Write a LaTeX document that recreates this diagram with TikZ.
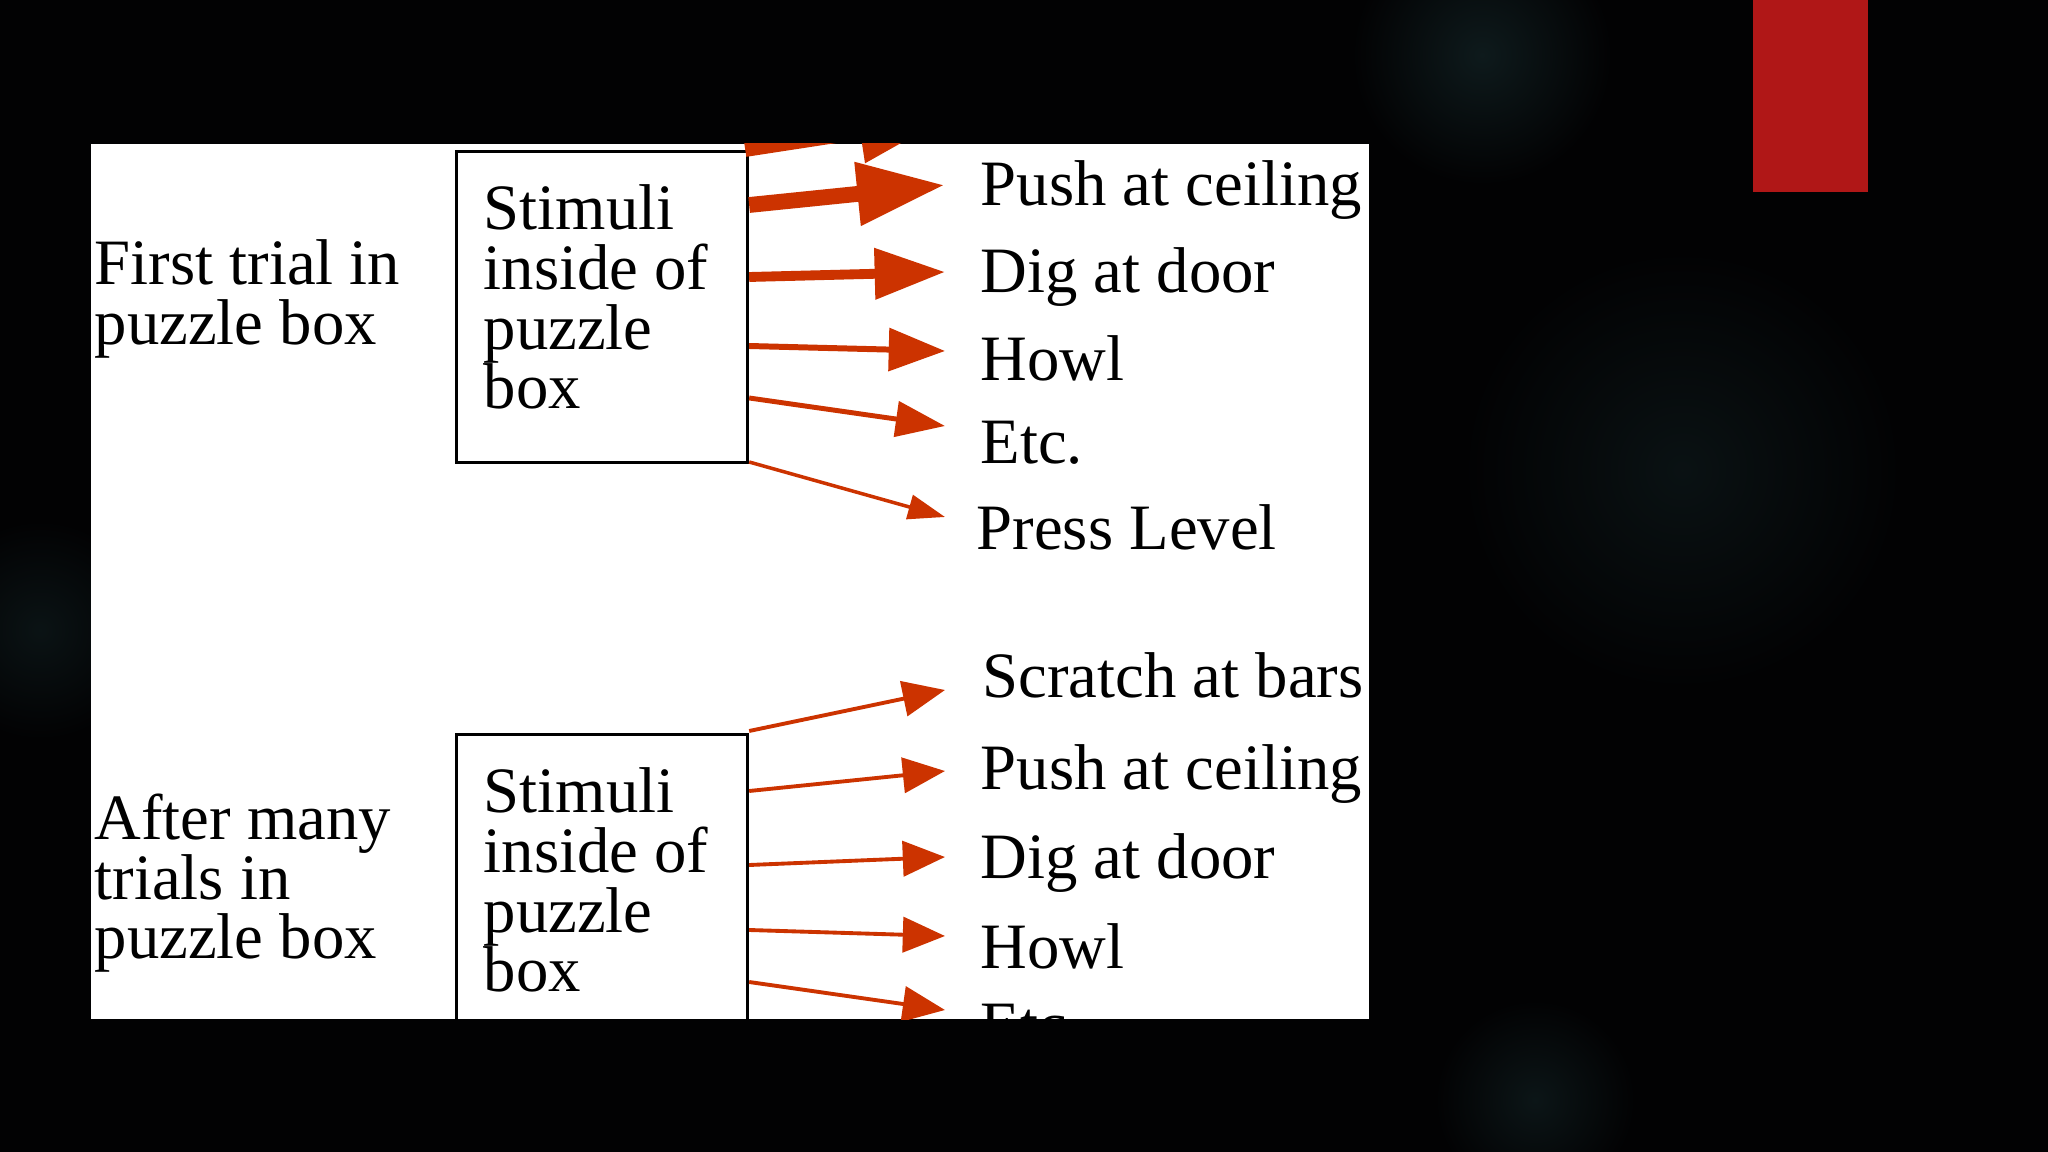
\documentclass[tikz,border=0pt]{standalone}
\usepackage{fontspec}
\setmainfont{Liberation Serif}
\usetikzlibrary{arrows.meta,positioning,calc}
\definecolor{Resp}{HTML}{CC3300}
\definecolor{Slide}{HTML}{020203}
\definecolor{Glow}{HTML}{0E1A1C}
\definecolor{Accent}{HTML}{B01717}
\tikzset{
  lbl/.style={inner sep=0pt,font=\fontsize{18.4}{17}\selectfont,align=left},
  stimbox/.style={draw=black,line width=0.85pt,minimum width=2.91cm,minimum height=3.11cm,inner sep=0pt,anchor=north west},
  resp/.style={draw=Resp,line cap=butt},
}

\begin{document}
\begin{tikzpicture}[x=0.01cm,y=-0.01cm]
\useasboundingbox (0,0) rectangle (2048,1152);
\fill[Slide] (0,0) rectangle (2048,1152);
% faint glows on the slide
\begin{scope}
\clip (0,0) rectangle (2048,1152);
\foreach \cx/\cy/\r/\k in {1482/55/130/100,1682/470/220/65,1535/1100/100/80,40/630/110/70} {
  \shade[inner color=Glow!\k!Slide,outer color=Slide] (\cx,\cy) circle[radius=\r];
}
\end{scope}
\fill[Accent] (1753,0) rectangle (1868,192);
\fill[white] (91,144) rectangle (1369,1019);

\begin{scope}
\clip (91,144) rectangle (1369,1019);
% first trial
\node[stimbox] (boxA) at (455,150) {};
\node[lbl,below right=0.34cm and 0.28cm of boxA.north west] (stimA) {Stimuli\\inside of\\puzzle\\box};
\node[lbl,anchor=north west] (firstA) at (94,239) {First trial in\\puzzle box};
\coordinate (hidA) at (947,118);
\draw[resp,line width=4.5pt,-{Triangle[length=25pt,width=17pt]}] ($(boxA.north east)+(-4,-1)$) -- (hidA);
\foreach \n/\t/\x/\b/\s/\e/\w/\hl/\hw in {
  pushA/Push at ceiling/980/206/205/185/4.5/25/17,
  digA/Dig at door/980/293/277/272/2.8/20/14,
  howlA/Howl/980/381/346/351/1.7/16/12,
  etcA/Etc./980/464/398/426/1.4/14/10,
  pressA/Press Level/976/550/462/517/1/10.5/7} {
  \node[lbl,anchor=base west] (\n) at (\x,\b) {\t};
  \draw[resp,line width=\w pt,-{Triangle[length=\hl pt,width=\hw pt]}]
    ($(boxA.north east)+(0,\s-150)$) -- ($(\n.base west)+(945-\x,\e-\b)$);
}
% after many trials
\node[stimbox] (boxB) at (455,733) {};
\node[lbl,below right=0.34cm and 0.28cm of boxB.north west] (stimB) {Stimuli\\inside of\\puzzle\\box};
\node[lbl,anchor=north west] (afterB) at (94,793) {After many\\trials in\\puzzle box};
\foreach \n/\t/\x/\b/\s/\e in {
  scratchB/Scratch at bars/982/697/731/690,
  pushB/Push at ceiling/980/789/791/771,
  digB/Dig at door/980/878/865/857,
  howlB/Howl/980/968/930/936,
  etcB/Etc./980/1046/982/1010} {
  \node[lbl,anchor=base west] (\n) at (\x,\b) {\t};
  \draw[resp,line width=1.1pt,-{Triangle[length=12pt,width=10pt]}]
    ($(boxB.north east)+(0,\s-733)$) -- ($(\n.base west)+(945-\x,\e-\b)$);
}
\end{scope}
\end{tikzpicture}
\end{document}
